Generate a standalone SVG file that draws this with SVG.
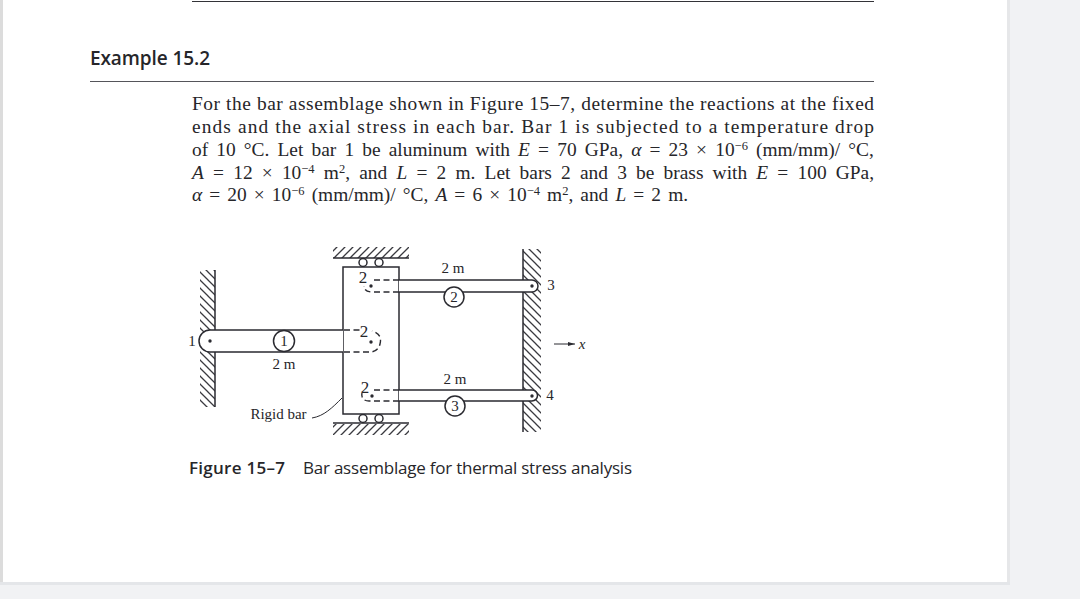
<svg xmlns="http://www.w3.org/2000/svg" width="1080" height="599" viewBox="0 0 1080 599">
<style>
.b{font-family:"Liberation Serif",serif;font-size:19.4px;fill:#26262a}
.l{font-family:"Liberation Serif",serif;font-size:15px;fill:#26262a;text-anchor:middle}
.n{font-size:17px}
.s{font-family:"Open Sans",sans-serif;fill:#26262a}
.i{font-style:italic}
.u{font-size:12.500px;word-spacing:0}
.k{fill:none;stroke:#2a2a30;stroke-width:1.500}
.d{fill:none;stroke:#2a2a30;stroke-width:1.400;stroke-dasharray:6 3.500}
.w{fill:#fff;stroke:#2a2a30;stroke-width:1.500}
.o{fill:#2a2a30}
</style>
<defs>
<pattern id="hb" width="8" height="8" patternUnits="userSpaceOnUse"><path d="M-1 -1L9 9M-1 7L1 9M7 -1L9 1" stroke="#3a3a40" stroke-width="1.300"/></pattern>
<pattern id="hf" width="8" height="8" patternUnits="userSpaceOnUse"><path d="M-1 9L9 -1M-1 1L1 -1M7 9L9 7" stroke="#3a3a40" stroke-width="1.300"/></pattern>
<marker id="ar" markerUnits="userSpaceOnUse" markerWidth="7" markerHeight="5" refX="7" refY="2.500" orient="auto"><path d="M0 0.500L7 2.500L0 4.500Z" fill="#2a2a30"/></marker>
</defs>
<rect width="1080" height="599" fill="#f1f2f4"/>
<rect x="1007" y="0" width="3" height="585" fill="#e6e7e9"/>
<rect x="0" y="582" width="1010" height="3" fill="#e4e6e9"/>
<rect x="0" y="0" width="3" height="582" fill="#dcdcdc"/>
<rect x="3" y="0" width="1004" height="582" fill="#fff"/>
<path d="M192 1.500H874" stroke="#333338" stroke-width="1"/>
<path d="M90 81.500H874" stroke="#55555a" stroke-width="1"/>
<text class="s" x="90" y="65" font-size="19" font-weight="600" textLength="120" lengthAdjust="spacing">Example 15.2</text>

<text class="b" x="192" y="110" textLength="682" lengthAdjust="spacing">For the bar assemblage shown in Figure 15–7, determine the reactions at the fixed</text>
<text class="b" x="192" y="133" textLength="682" lengthAdjust="spacing">ends and the axial stress in each bar. Bar 1 is subjected to a temperature drop</text>
<text class="b" x="192" y="156" word-spacing="3.300">of 10 °C. Let bar 1 be aluminum with <tspan class="i">E</tspan> = 70 GPa, <tspan class="i">α</tspan> = 23 × 10<tspan class="u" dy="-6">−6</tspan><tspan dy="6"> (mm/mm)/ °C,</tspan></text>
<text class="b" x="192" y="179" word-spacing="4.350"><tspan class="i">A</tspan> = 12 × 10<tspan class="u" dy="-6">−4</tspan><tspan dy="6"> m</tspan><tspan class="u" dy="-6">2</tspan><tspan dy="6">, and </tspan><tspan class="i">L</tspan> = 2 m. Let bars 2 and 3 be brass with <tspan class="i">E</tspan> = 100 GPa,</text>
<text class="b" x="192" y="201" word-spacing="2.250"><tspan class="i">α</tspan> = 20 × 10<tspan class="u" dy="-6">−6</tspan><tspan dy="6"> (mm/mm)/ °C, </tspan><tspan class="i">A</tspan> = 6 × 10<tspan class="u" dy="-6">−4</tspan><tspan dy="6"> m</tspan><tspan class="u" dy="-6">2</tspan><tspan dy="6">, and </tspan><tspan class="i">L</tspan> = 2 m.</text>

<g id="wall-left"><rect x="200" y="270" width="15" height="137" fill="url(#hb)"/><path class="k" d="M215 270V407"/></g>
<g id="wall-right"><rect x="523" y="249" width="18" height="183" fill="url(#hb)"/><path class="k" d="M523 249V432"/></g>
<g id="wall-top"><rect x="333" y="247" width="76" height="11" fill="url(#hf)"/><path class="k" d="M333 258H409"/></g>
<g id="wall-bottom"><rect x="333" y="424" width="76" height="11" fill="url(#hf)"/><path class="k" d="M333 423H409"/></g>

<g id="rollers">
<circle class="w" cx="363" cy="262.500" r="4"/><circle class="w" cx="379" cy="262.500" r="4"/>
<circle class="w" cx="363" cy="418.500" r="4"/><circle class="w" cx="379" cy="418.500" r="4"/>
</g>
<g id="rigid-bar"><rect x="343" y="267" width="56" height="147" fill="#fff" stroke="#2a2a30" stroke-width="1.500"/></g>

<g id="connectors">
<path d="M343 330H210A11 11 0 0 0 210 352H343Z" fill="#fff"/>
<path class="k" d="M343 330H210A11 11 0 0 0 210 352H343"/>
<path class="d" d="M344 330H360M344 352H369A10 10 0 0 0 380 344C382 336 378 333 372 331" />
<path d="M399 280H532A6 6 0 0 1 532 292H399Z" fill="#fff"/>
<path class="k" d="M399 280H532A6 6 0 0 1 532 292H399"/>
<path class="d" d="M399 280H371M399 292H372C366 292 364 289 364 286"/>
<path d="M399 390H532A5.500 5.500 0 0 1 532 401H399Z" fill="#fff"/>
<path class="k" d="M399 390H532A5.500 5.500 0 0 1 532 401H399"/>
<path class="d" d="M399 390H374M399 401H369C363 401 361 397 362 393"/>
<path fill="none" stroke="#2a2a30" stroke-width="1" d="M312 418C324 416 332 408 342 398"/>
<path fill="none" stroke="#2a2a30" stroke-width="1" d="M554 344H575" marker-end="url(#ar)"/>
</g>

<g id="bar-1"><circle class="w" cx="284" cy="341" r="10.500"/><text class="l" x="284" y="346">1</text></g>
<g id="bar-2"><circle class="w" cx="454" cy="297" r="10"/><text class="l" x="454" y="302">2</text></g>
<g id="bar-3"><circle class="w" cx="455" cy="406" r="10"/><text class="l" x="455" y="411">3</text></g>

<g id="node-1"><circle class="o" cx="210" cy="341" r="1.700"/><text class="l" x="192" y="346">1</text></g>
<g id="node-2a"><circle class="o" cx="371" cy="342" r="1.700"/><text class="l n" x="364" y="337">2</text></g>
<g id="node-2b"><circle class="o" cx="371" cy="286" r="1.700"/><text class="l n" x="363" y="283">2</text></g>
<g id="node-2c"><circle class="o" cx="372" cy="396" r="1.700"/><text class="l n" x="365" y="393">2</text></g>
<g id="node-3"><circle class="o" cx="532" cy="286" r="1.700"/><text class="l" x="551" y="290">3</text></g>
<g id="node-4"><circle class="o" cx="532" cy="396" r="1.700"/><text class="l" x="550" y="400">4</text></g>

<text class="l" x="284" y="369">2 m</text>
<text class="l" x="453" y="273">2 m</text>
<text class="l" x="455" y="384">2 m</text>
<text class="l" x="278.500" y="419">Rigid bar</text>
<text class="l i" x="582" y="349">x</text>

<text class="s" x="189" y="474" font-size="17" font-weight="600" textLength="96" lengthAdjust="spacing">Figure 15–7</text>
<text class="s" x="303" y="474" font-size="17" textLength="329" lengthAdjust="spacing">Bar assemblage for thermal stress analysis</text>
</svg>
